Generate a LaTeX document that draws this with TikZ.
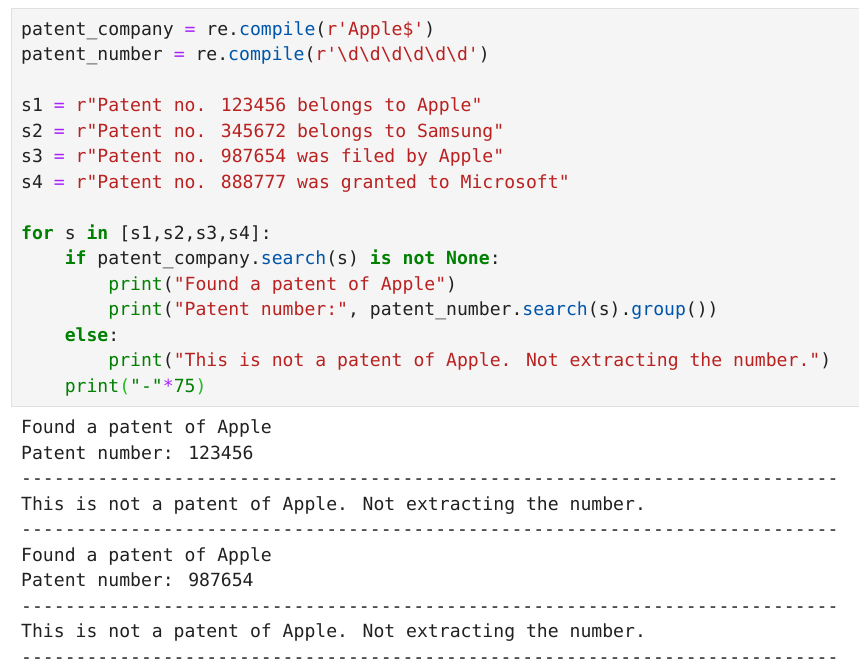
\documentclass[tikz,border=0pt]{standalone}
\usepackage{fontspec}
\newfontfamily\cf{DejaVu Sans Mono}
\definecolor{kwc}{HTML}{008000}
\definecolor{strc}{HTML}{BA2121}
\definecolor{opc}{HTML}{AA22FF}
\definecolor{fnc}{HTML}{0055AA}
\definecolor{txc}{HTML}{212121}
\definecolor{lgc}{HTML}{22BB22}
\definecolor{cellbg}{HTML}{F5F5F5}
\definecolor{cellbd}{HTML}{E0E0E0}
\newcommand\KW[1]{\textcolor{kwc}{\bfseries #1}}
\newcommand\BI[1]{\textcolor{kwc}{#1}}
\newcommand\ST[1]{\textcolor{strc}{#1}}
\newcommand\OP[1]{\textcolor{opc}{#1}}
\newcommand\FN[1]{\textcolor{fnc}{#1}}
\tikzset{ln/.style={anchor=base west,inner sep=0pt,text=txc,font=\cf\fontsize{18.1}{20}\selectfont}}
\begin{document}
\begin{tikzpicture}[x=1pt,y=-1pt]
\useasboundingbox (0,0) rectangle (859,667);
\fill[white] (0,0) rectangle (859,667);
\draw[cellbd,fill=cellbg] (11,8) rectangle (862,406);
\def\xa{21}\def\xb{64.6}\def\xc{108.2}
\node[ln] (c1) at (\xa,35) {patent\_company \OP{=} re.\FN{compile}(\ST{r'Apple\$'})};
\node[ln] (c2) at (\xa,60.5) {patent\_number \OP{=} re.\FN{compile}(\ST{r'\textbackslash d\textbackslash d\textbackslash d\textbackslash d\textbackslash d\textbackslash d'})};
\node[ln] (c3) at (\xa,111.5) {s1 \OP{=} \ST{r"Patent no. 123456 belongs to Apple"}};
\node[ln] (c4) at (\xa,137) {s2 \OP{=} \ST{r"Patent no. 345672 belongs to Samsung"}};
\node[ln] (c5) at (\xa,162.5) {s3 \OP{=} \ST{r"Patent no. 987654 was filed by Apple"}};
\node[ln] (c6) at (\xa,188) {s4 \OP{=} \ST{r"Patent no. 888777 was granted to Microsoft"}};
\node[ln] (c7) at (\xa,239) {\KW{for} s \KW{in} [s1,s2,s3,s4]:};
\node[ln] (c8) at (\xb,264.5) {\KW{if} patent\_company.\FN{search}(s) \KW{is} \KW{not} \KW{None}:};
\node[ln] (c9) at (\xc,290) {\BI{print}(\ST{"Found a patent of Apple"})};
\node[ln] (c10) at (\xc,315.5) {\BI{print}(\ST{"Patent number:"}, patent\_number.\FN{search}(s).\FN{group}())};
\node[ln] (c11) at (\xb,341) {\KW{else}:};
\node[ln] (c12) at (\xc,366.5) {\BI{print}(\ST{"This is not a patent of Apple. Not extracting the number."})};
\node[ln] (c13) at (\xb,392) {\BI{print}\textcolor{lgc}{(}\BI{"-"}\OP{*}\BI{75}\textcolor{lgc}{)}};
\def\dl{---------------------------------------------------------------------------}
\node[ln] (o1) at (\xa,433.5) {Found a patent of Apple};
\node[ln] (o2) at (\xa,459) {Patent number: 123456};
\node[ln] (o3) at (\xa,484.5) {\dl};
\node[ln] (o4) at (\xa,510) {This is not a patent of Apple. Not extracting the number.};
\node[ln] (o5) at (\xa,535.5) {\dl};
\node[ln] (o6) at (\xa,561) {Found a patent of Apple};
\node[ln] (o7) at (\xa,586.5) {Patent number: 987654};
\node[ln] (o8) at (\xa,612) {\dl};
\node[ln] (o9) at (\xa,637.5) {This is not a patent of Apple. Not extracting the number.};
\node[ln] (o10) at (\xa,663) {\dl};
\end{tikzpicture}
\end{document}
